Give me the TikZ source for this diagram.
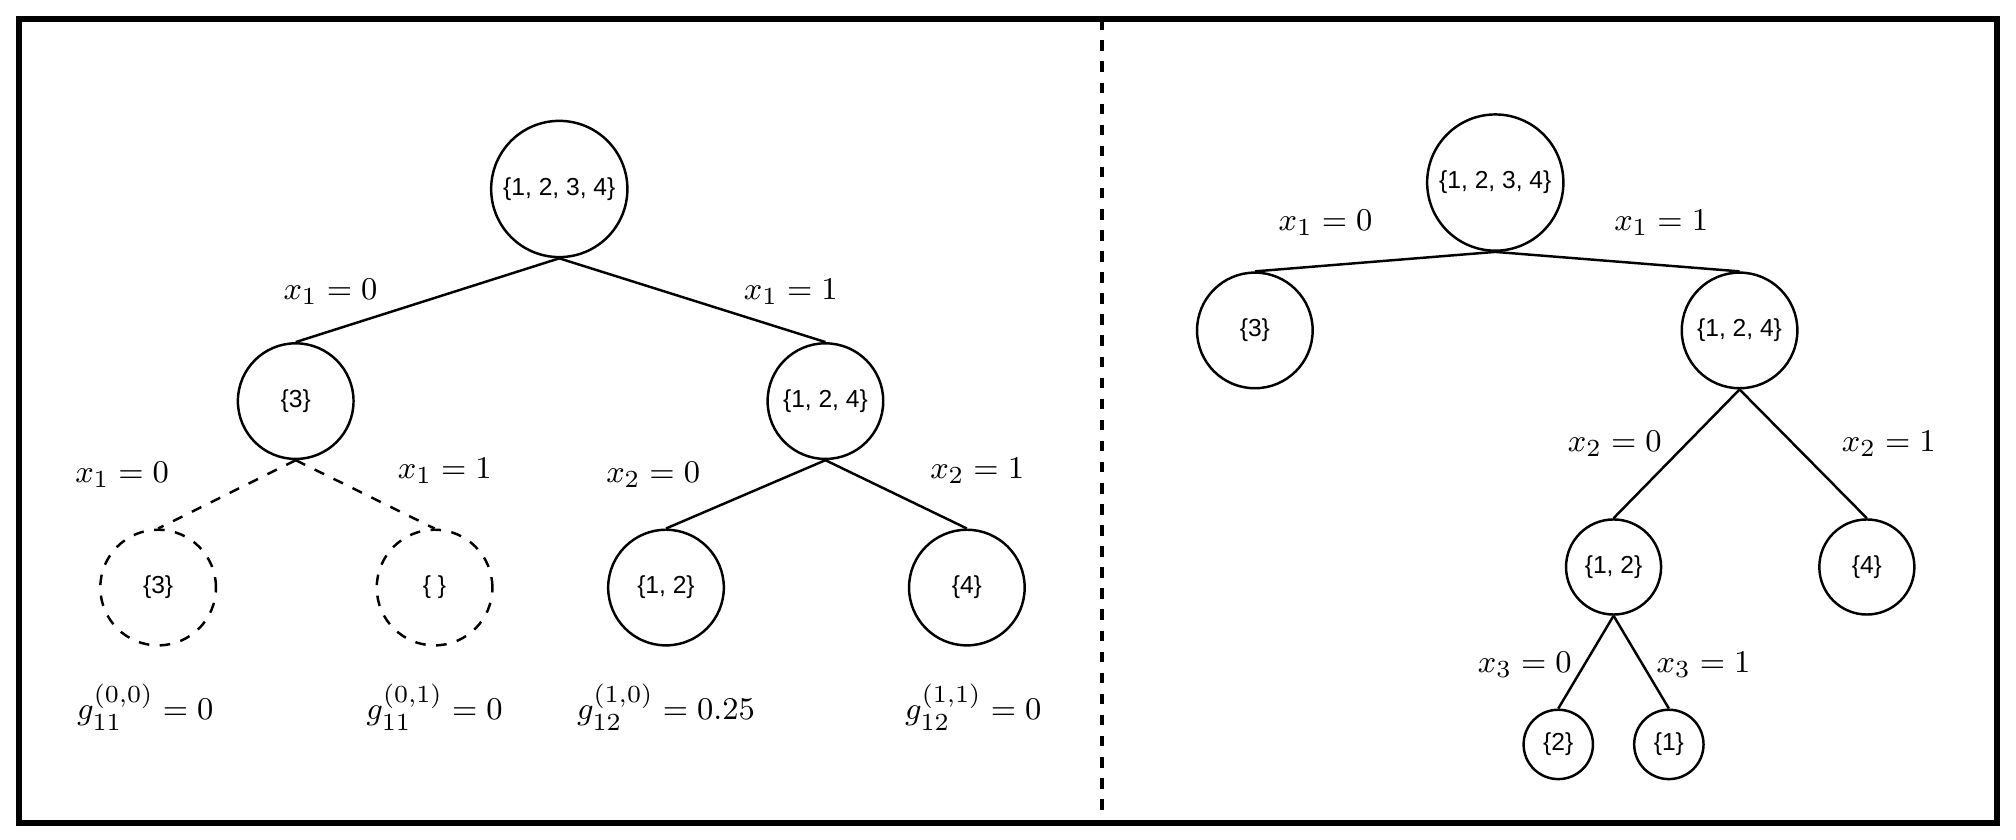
\documentclass[tikz,border=0pt]{standalone}
\usepackage{fontspec}
\setsansfont{Liberation Sans}
\begin{document}
\begin{tikzpicture}[x=0.012857cm,y=-0.012857cm,
  st/.style={circle,draw,line width=0.7pt,inner sep=0pt,font=\sffamily\fontsize{7}{8}\selectfont},
  big/.style={st,minimum size=1.363cm},
  mid/.style={st,minimum size=1.157cm},
  sm/.style={st,minimum size=0.951cm},
  tiny/.style={st,minimum size=0.694cm},
  ghost/.style={mid,dashed},
  edge/.style={line width=0.7pt},
  lab/.style={font=\fontsize{9.5}{11}\selectfont}]
\useasboundingbox (0,0) rectangle (1568,653);
\draw[line width=1.6pt] (15,15) rectangle (1553,640);
\coordinate (dt) at (857,15); \coordinate (db) at (857,640);
\draw[dashed,line width=1.2pt] (dt) -- (db);
% left tree
\node[big] (r) at (435,147) {\{1, 2, 3, 4\}};
\node[mid] (a) at (230,312) {\{3\}};
\node[mid] (b) at (642,312) {\{1, 2, 4\}};
\node[ghost] (c) at (123,457) {\{3\}};
\node[ghost] (d) at (338,457) {\{ \}};
\node[mid] (e) at (518,457) {\{1, 2\}};
\node[mid] (f) at (752,457) {\{4\}};
\draw[edge] (r.south) -- (a.north);
\draw[edge] (r.south) -- (b.north);
\draw[edge,dashed] (a.south) -- (c.north);
\draw[edge,dashed] (a.south) -- (d.north);
\draw[edge] (b.south) -- (e.north);
\draw[edge] (b.south) -- (f.north);
\node[lab] (l1) at (257,227) {$x_1=0$};
\node[lab] (l2) at (615,227) {$x_1=1$};
\node[lab] (l3) at (95,369) {$x_1=0$};
\node[lab] (l4) at (346,366) {$x_1=1$};
\node[lab] (l5) at (508,369) {$x_2=0$};
\node[lab] (l6) at (760,366) {$x_2=1$};
\node[lab] (g1) at (113,550) {$g_{11}^{(0,0)}=0$};
\node[lab] (g2) at (338,550) {$g_{11}^{(0,1)}=0$};
\node[lab] (g3) at (518,550) {$g_{12}^{(1,0)}=0.25$};
\node[lab] (g4) at (757,550) {$g_{12}^{(1,1)}=0$};
% right tree
\node[big] (R) at (1163,142) {\{1, 2, 3, 4\}};
\node[mid] (A) at (976,257) {\{3\}};
\node[mid] (B) at (1353,257) {\{1, 2, 4\}};
\node[sm] (C) at (1255,441) {\{1, 2\}};
\node[sm] (D) at (1452,441) {\{4\}};
\node[tiny] (E) at (1212,579) {\{2\}};
\node[tiny] (F) at (1298,579) {\{1\}};
\draw[edge] (R.south) -- (A.north);
\draw[edge] (R.south) -- (B.north);
\draw[edge] (B.south) -- (C.north);
\draw[edge] (B.south) -- (D.north);
\draw[edge] (C.south) -- (E.north);
\draw[edge] (C.south) -- (F.north);
\node[lab] (m1) at (1031,173) {$x_1=0$};
\node[lab] (m2) at (1292,173) {$x_1=1$};
\node[lab] (m3) at (1256,345) {$x_2=0$};
\node[lab] (m4) at (1469,345) {$x_2=1$};
\node[lab] (m5) at (1186,517) {$x_3=0$};
\node[lab] (m6) at (1325,517) {$x_3=1$};
\end{tikzpicture}
\end{document}
